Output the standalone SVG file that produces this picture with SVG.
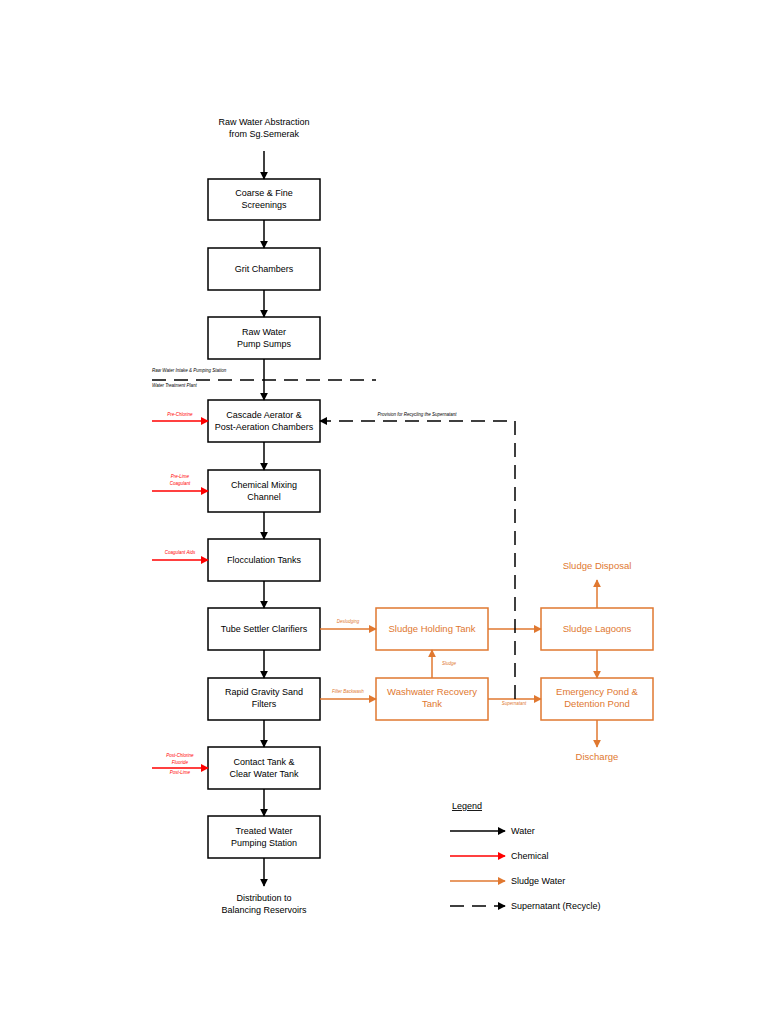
<svg xmlns="http://www.w3.org/2000/svg" width="768" height="1024" viewBox="0 0 768 1024">
<style>
text{font-family:"Liberation Sans",Arial,sans-serif;font-size:9px;text-anchor:middle}
.b{fill:#fff;stroke:#000;stroke-width:1.5}
.o{fill:#fff;stroke:#E07830;stroke-width:1.5}
.ot{fill:#E07830;font-size:9.5px}
.w{stroke:#000;stroke-width:1.5;fill:none}
.c{stroke:#f00;stroke-width:1.5;fill:none}
.s{stroke:#E07830;stroke-width:1.5;fill:none}
.d{stroke:#000;stroke-width:1.5;fill:none;stroke-dasharray:14,8}
.sm{font-size:4.5px;font-style:italic}
.smr{font-size:4.5px;font-style:italic;fill:#f00}
.smo{font-size:4.5px;font-style:italic;fill:#E07830}
</style>
<defs>
<marker id="ab" viewBox="0 0 10 10" refX="9" refY="5" markerWidth="8" markerHeight="8" markerUnits="userSpaceOnUse" orient="auto"><path d="M0,0L10,5L0,10z" fill="#000"/></marker>
<marker id="ar" viewBox="0 0 10 10" refX="9" refY="5" markerWidth="8" markerHeight="8" markerUnits="userSpaceOnUse" orient="auto"><path d="M0,0L10,5L0,10z" fill="#f00"/></marker>
<marker id="ao" viewBox="0 0 10 10" refX="9" refY="5" markerWidth="8" markerHeight="8" markerUnits="userSpaceOnUse" orient="auto"><path d="M0,0L10,5L0,10z" fill="#E07830"/></marker>
</defs>
<text x="264" y="125">Raw Water Abstraction</text><text x="264" y="137">from Sg.Semerak</text>
<text x="264" y="901">Distribution to</text><text x="264" y="913">Balancing Reservoirs</text>
<g id="n1"><rect class="b" x="208" y="179" width="112" height="41"/><text x="264" y="196">Coarse &amp; Fine</text><text x="264" y="208">Screenings</text></g>
<g id="n2"><rect class="b" x="208" y="248" width="112" height="42"/><text x="264" y="272">Grit Chambers</text></g>
<g id="n3"><rect class="b" x="208" y="317" width="112" height="42"/><text x="264" y="335">Raw Water</text><text x="264" y="347">Pump Sumps</text></g>
<g id="n4"><rect class="b" x="208" y="400" width="112" height="42"/><text x="264" y="418">Cascade Aerator &amp;</text><text x="264" y="430">Post-Aeration Chambers</text></g>
<g id="n5"><rect class="b" x="208" y="470" width="112" height="42"/><text x="264" y="488">Chemical Mixing</text><text x="264" y="500">Channel</text></g>
<g id="n6"><rect class="b" x="208" y="539" width="112" height="42"/><text x="264" y="563">Flocculation Tanks</text></g>
<g id="n7"><rect class="b" x="208" y="608" width="112" height="42"/><text x="264" y="632">Tube Settler Clarifiers</text></g>
<g id="n8"><rect class="b" x="208" y="678" width="112" height="42"/><text x="264" y="695">Rapid Gravity Sand</text><text x="264" y="707">Filters</text></g>
<g id="n9"><rect class="b" x="208" y="747" width="112" height="42"/><text x="264" y="765">Contact Tank &amp;</text><text x="264" y="777">Clear Water Tank</text></g>
<g id="n10"><rect class="b" x="208" y="816" width="112" height="42"/><text x="264" y="834">Treated Water</text><text x="264" y="846">Pumping Station</text></g>
<g id="n11"><rect class="o" x="376" y="608" width="112" height="42"/><text class="ot" x="432" y="632">Sludge Holding Tank</text></g>
<g id="n12"><rect class="o" x="376" y="678" width="112" height="42"/><text class="ot" x="432" y="695">Washwater Recovery</text><text class="ot" x="432" y="707">Tank</text></g>
<g id="n13"><rect class="o" x="541" y="608" width="112" height="42"/><text class="ot" x="597" y="632">Sludge Lagoons</text></g>
<g id="n14"><rect class="o" x="541" y="678" width="112" height="42"/><text class="ot" x="597" y="695">Emergency Pond &amp;</text><text class="ot" x="597" y="707">Detention Pond</text></g>
<text class="ot" x="597" y="569">Sludge Disposal</text>
<text class="ot" x="597" y="760">Discharge</text>
<g id="boundary">
<line class="d" x1="152" y1="380" x2="376" y2="380"/>
<text class="sm" x="152" y="372" style="text-anchor:start">Raw Water Intake &amp; Pumping Station</text>
<text class="sm" x="152" y="387" style="text-anchor:start">Water Treatment Plant</text>
</g>
<g id="connectors">
<line class="w" x1="264" y1="151" x2="264" y2="179" marker-end="url(#ab)"/>
<line class="w" x1="264" y1="220" x2="264" y2="248" marker-end="url(#ab)"/>
<line class="w" x1="264" y1="290" x2="264" y2="317" marker-end="url(#ab)"/>
<line class="w" x1="264" y1="359" x2="264" y2="400" marker-end="url(#ab)"/>
<line class="w" x1="264" y1="442" x2="264" y2="470" marker-end="url(#ab)"/>
<line class="w" x1="264" y1="512" x2="264" y2="539" marker-end="url(#ab)"/>
<line class="w" x1="264" y1="581" x2="264" y2="608" marker-end="url(#ab)"/>
<line class="w" x1="264" y1="650" x2="264" y2="678" marker-end="url(#ab)"/>
<line class="w" x1="264" y1="720" x2="264" y2="747" marker-end="url(#ab)"/>
<line class="w" x1="264" y1="789" x2="264" y2="816" marker-end="url(#ab)"/>
<line class="w" x1="264" y1="858" x2="264" y2="886" marker-end="url(#ab)"/>
<line class="c" x1="152" y1="421" x2="208" y2="421" marker-end="url(#ar)"/><text class="smr" x="180" y="416">Pre-Chlorine</text>
<line class="c" x1="152" y1="491" x2="208" y2="491" marker-end="url(#ar)"/><text class="smr" x="180" y="478">Pre-Lime</text><text class="smr" x="180" y="485">Coagulant</text>
<line class="c" x1="152" y1="560" x2="208" y2="560" marker-end="url(#ar)"/><text class="smr" x="180" y="554">Coagulant Aids</text>
<line class="c" x1="152" y1="768" x2="208" y2="768" marker-end="url(#ar)"/><text class="smr" x="180" y="757">Post-Chlorine</text><text class="smr" x="180" y="764">Fluoride</text><text class="smr" x="180" y="774">Post-Lime</text>
<line class="s" x1="320" y1="629" x2="376" y2="629" marker-end="url(#ao)"/><text class="smo" x="348" y="623">Desludging</text>
<line class="s" x1="320" y1="699" x2="376" y2="699" marker-end="url(#ao)"/><text class="smo" x="348" y="693">Filter Backwash</text>
<line class="s" x1="432" y1="678" x2="432" y2="650" marker-end="url(#ao)"/><text class="smo" x="449" y="665">Sludge</text>
<line class="s" x1="488" y1="629" x2="541" y2="629" marker-end="url(#ao)"/>
<line class="s" x1="488" y1="699" x2="541" y2="699" marker-end="url(#ao)"/><text class="smo" x="514" y="705">Supernatant</text>
<line class="s" x1="597" y1="608" x2="597" y2="580" marker-end="url(#ao)"/>
<line class="s" x1="597" y1="650" x2="597" y2="678" marker-end="url(#ao)"/>
<line class="s" x1="597" y1="720" x2="597" y2="747" marker-end="url(#ao)"/>
<polyline class="d" points="515,699 515,421 320,421" marker-end="url(#ab)"/>
<text class="sm" x="417" y="416">Provision for Recycling the Supernatant</text>
</g>
<g id="legend">
<text x="467" y="809" style="text-decoration:underline">Legend</text>
<line class="w" x1="450" y1="831" x2="505" y2="831" marker-end="url(#ab)"/><text x="511" y="834" style="text-anchor:start">Water</text>
<line class="c" x1="450" y1="856" x2="505" y2="856" marker-end="url(#ar)"/><text x="511" y="859" style="text-anchor:start">Chemical</text>
<line class="s" x1="450" y1="881" x2="505" y2="881" marker-end="url(#ao)"/><text x="511" y="884" style="text-anchor:start">Sludge Water</text>
<line class="d" x1="450" y1="906" x2="505" y2="906" marker-end="url(#ab)"/><text x="511" y="909" style="text-anchor:start">Supernatant (Recycle)</text>
</g>
</svg>
